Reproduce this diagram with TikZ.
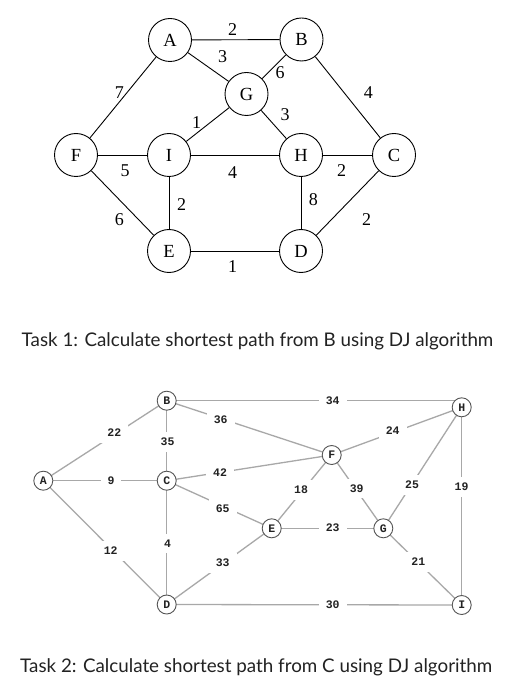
\documentclass[tikz,border=0pt]{standalone}
\usepackage{fontspec}
\setmainfont{Liberation Serif}
\newfontfamily\latofont{Lato}
\newfontfamily\monofont{Liberation Mono}
\definecolor{edgegray}{HTML}{A8A8A8}
\definecolor{nodegray}{HTML}{555555}
\definecolor{txtdark}{HTML}{222222}
\begin{document}
\begin{tikzpicture}[x=1pt,y=-1pt,
  bignode/.style={circle,draw=black,line width=0.9pt,fill=white,minimum size=43pt,inner sep=0pt,font=\fontsize{18.5}{18.5}\selectfont},
  bigedge/.style={draw=black,line width=0.9pt},
  biglbl/.style={inner sep=0pt,font=\fontsize{18}{18}\selectfont},
  smallnode/.style={circle,draw=nodegray,line width=0.9pt,fill=white,minimum size=19pt,inner sep=0pt,text=txtdark,font=\monofont\bfseries\fontsize{11.5}{11.5}\selectfont},
  smalledge/.style={draw=edgegray,line width=1.3pt},
  smalllbl/.style={fill=white,inner xsep=7pt,inner ysep=6pt,text=txtdark,font=\monofont\bfseries\fontsize{11.5}{11.5}\selectfont},
  title/.style={anchor=west,inner sep=0pt,text=txtdark,font=\latofont\fontsize{18.8}{18.8}\selectfont}]
\useasboundingbox[fill=white] (0,0) rectangle (517,700);
% ---------- Task 1 graph ----------
\node[bignode] (A) at (170,40) {A};
\node[bignode] (B) at (301.5,39.5) {B};
\node[bignode] (G) at (246.5,94) {G};
\node[bignode] (F) at (76,155) {F};
\node[bignode] (I) at (169,155) {I};
\node[bignode] (H) at (301,155) {H};
\node[bignode] (C) at (394,155) {C};
\node[bignode] (E) at (169,251) {E};
\node[bignode] (D) at (301,251) {D};
\draw[bigedge] (A) -- (B);
\draw[bigedge] (A) -- (G);
\draw[bigedge] (B) -- (G);
\draw[bigedge] (A) -- (F);
\draw[bigedge] (B) -- (C);
\draw[bigedge] (G) -- (I);
\draw[bigedge] (G) -- (H);
\draw[bigedge] (F) -- (I);
\draw[bigedge] (I) -- (H);
\draw[bigedge] (H) -- (C);
\draw[bigedge] (F) -- (E);
\draw[bigedge] (I) -- (E);
\draw[bigedge] (H) -- (D);
\draw[bigedge] (C) -- (D);
\draw[bigedge] (E) -- (D);
\node[biglbl] (l1) at (232.7,30) {2};
\node[biglbl] (l2) at (222.7,57) {3};
\node[biglbl] (l3) at (280,73) {6};
\node[biglbl] (l4) at (119.3,93) {7};
\node[biglbl] (l5) at (368.3,92.7) {4};
\node[biglbl] (l6) at (285,115) {3};
\node[biglbl] (l7) at (196.7,123) {1};
\node[biglbl] (l8) at (125,170.7) {5};
\node[biglbl] (l9) at (232.7,172.7) {4};
\node[biglbl] (l10) at (341.7,170.7) {2};
\node[biglbl] (l11) at (313.3,200) {8};
\node[biglbl] (l12) at (181.7,205) {2};
\node[biglbl] (l13) at (119.3,220) {6};
\node[biglbl] (l14) at (366.7,220) {2};
\node[biglbl] (l15) at (232.7,266.7) {1};
% ---------- Task 1 text ----------
\node[title] (t1) at (21.5,341.5) {Task 1: Calculate shortest path from B using DJ algorithm};
% ---------- Task 2 graph ----------
\coordinate (bA) at (43.3,480.7);
\coordinate (bB) at (166.7,400.7);
\coordinate (bC) at (166.7,480.7);
\coordinate (bD) at (166.7,604.5);
\coordinate (bE) at (271.7,528.3);
\coordinate (bF) at (331.7,455);
\coordinate (bG) at (383.3,528.3);
\coordinate (bH) at (461.7,407.3);
\coordinate (bI) at (461.7,605);
\draw[smalledge] (bA) -- (bB);
\draw[smalledge] (bA) -- (bC);
\draw[smalledge] (bA) -- (bD);
\draw[smalledge] (bB) -- (bC);
\draw[smalledge] (bB) -- (bF);
\draw[smalledge] (bB) -- (bB-|bH) coordinate (bHt);
\draw[smalledge] (bC) -- (bF);
\draw[smalledge] (bC) -- (bE);
\draw[smalledge] (bC) -- (bD);
\draw[smalledge] (bD) -- (bE);
\draw[smalledge] (bD) -- (bI);
\draw[smalledge] (bE) -- (bF);
\draw[smalledge] (bE) -- (bG);
\draw[smalledge] (bF) -- (bG);
\draw[smalledge] (bF) -- (bH);
\draw[smalledge] (bG) -- (bH);
\draw[smalledge] (bG) -- (bI);
\draw[smalledge] (bH) -- (bI);
\node[smalllbl] (m1) at (332.7,400.7) {34};
\node[smalllbl] (m2) at (114.3,433) {22};
\node[smalllbl] (m3) at (220.7,420) {36};
\node[smalllbl] (m4) at (167.5,441.7) {35};
\node[smalllbl] (m5) at (392.7,430.5) {24};
\node[smalllbl] (m6) at (220,472.3) {42};
\node[smalllbl] (m7) at (111,480.7) {9};
\node[smalllbl] (m8) at (301,490) {18};
\node[smalllbl] (m9) at (356.7,488.5) {39};
\node[smalllbl] (m10) at (412,485) {25};
\node[smalllbl] (m11) at (461.5,486.7) {19};
\node[smalllbl] (m12) at (222.7,508.5) {65};
\node[smalllbl] (m13) at (332.7,528) {23};
\node[smalllbl] (m14) at (167.5,543.3) {4};
\node[smalllbl] (m15) at (110.7,551) {12};
\node[smalllbl] (m16) at (222.7,563) {33};
\node[smalllbl] (m17) at (418.3,562) {21};
\node[smalllbl] (m18) at (332.7,604.7) {30};
\node[smallnode] (nA) at (bA) {A};
\node[smallnode] (nB) at (bB) {B};
\node[smallnode] (nC) at (bC) {C};
\node[smallnode] (nD) at (bD) {D};
\node[smallnode] (nE) at (bE) {E};
\node[smallnode] (nF) at (bF) {F};
\node[smallnode] (nG) at (bG) {G};
\node[smallnode] (nH) at (bH) {H};
\node[smallnode] (nI) at (bI) {I};
% ---------- Task 2 text ----------
\node[title] (t2) at (20,667) {Task 2: Calculate shortest path from C using DJ algorithm};
\end{tikzpicture}
\end{document}
